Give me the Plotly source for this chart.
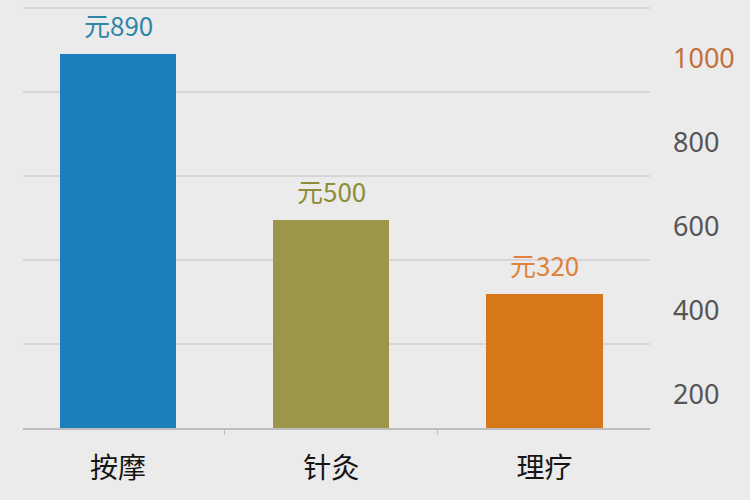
import plotly.graph_objects as go

categories = ["按摩", "针灸", "理疗"]
values = [890, 495, 320]
value_labels = ["元890", "元500", "元320"]
bar_colors = ["#1a7fbb", "#9c9648", "#d8761a"]
label_colors = ["#2e86a8", "#8f8d3a", "#e0823a"]
tick_values = [200, 400, 600, 800, 1000]
tick_labels = ["200", "400", "600", "800", "<span style='color:#c4703c'>1000</span>"]

font_family = "Noto Sans CJK SC, Noto Sans, sans-serif"

fig = go.Figure()
fig.add_trace(go.Bar(
    x=categories, y=values, marker=dict(color=bar_colors, line=dict(width=0)),
    width=0.545, hoverinfo="skip",
))

for c, v, t, col in zip(categories, values, value_labels, label_colors):
    fig.add_annotation(x=c, y=v, text=t, showarrow=False, yanchor="bottom",
                       yshift=9, font=dict(size=26, color=col, family=font_family))

fig.update_layout(
    width=750, height=500,
    margin=dict(l=23, r=100, t=7, b=72, autoexpand=False),
    paper_bgcolor="#ebebeb", plot_bgcolor="#ebebeb",
    showlegend=False, bargap=0,
    xaxis=dict(
        type="category", range=[-0.446, 2.495],
        showline=True, linecolor="#bdbdbd", linewidth=2,
        ticks="outside", tickson="boundaries", ticklen=5, tickcolor="#bdbdbd", tickwidth=1,
        ticklabelstandoff=14,
        tickfont=dict(size=28, color="#151515", family=font_family),
        showgrid=False,
    ),
    yaxis=dict(
        range=[0, 1003], side="right",
        tickvals=tick_values, ticktext=tick_labels,
        showgrid=True, gridcolor="#d6d6d6", gridwidth=2,
        zeroline=False, ticks="", ticklabelshift=50, ticklabelstandoff=22,
        tickfont=dict(size=27, color="#555555", family="Noto Sans, sans-serif"),
    ),
)

fig.write_html(
    "out.html",
    config={"displayModeBar": False},
    post_script="document.body.style.margin='0';document.body.style.background='#ebebeb';",
)
